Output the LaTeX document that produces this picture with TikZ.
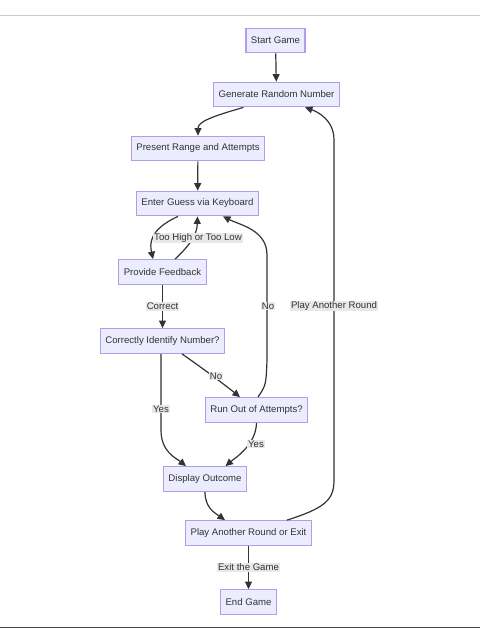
\documentclass[tikz,border=0pt]{standalone}
\usepackage{fontspec}
\setmainfont{Liberation Sans}
\usetikzlibrary{arrows.meta}
\definecolor{nodefill}{HTML}{ECECFF}
\definecolor{nodeborder}{HTML}{B39DEA}
\definecolor{txt}{HTML}{333333}
\definecolor{lblbg}{HTML}{E8E8E8}
\definecolor{topline}{HTML}{CCCCCC}
\definecolor{botline}{HTML}{444444}
\tikzset{
  flowbox/.style={draw=nodeborder, fill=nodefill, line width=1.3pt, text=txt,
    font=\fontsize{9.6}{11}\selectfont, inner xsep=5pt, inner ysep=0pt,
    minimum height=24.5pt},
  conn/.style={draw=txt, line width=1.2pt, -{Triangle[length=7.5pt,width=7pt]}},
  lbl/.style={fill=lblbg, text=txt, font=\fontsize{9.6}{11}\selectfont,
    inner sep=1pt},
}
\begin{document}
\begin{tikzpicture}[x=1pt,y=-1pt]
\useasboundingbox (0,0) rectangle (480,628);
\draw[topline, line width=1.2pt] (0,15.3) -- (480,15.3);
\draw[botline, line width=1.5pt] (0,627.3) -- (480,627.3);

\node[flowbox] (start) at (275.5,40.5) {Start Game};
\node[flowbox] (gen) at (276.5,94.5) {Generate Random Number};
\node[flowbox] (pres) at (198,148.5) {Present Range and Attempts};
\node[flowbox] (enter) at (197.5,203.5) {Enter Guess via Keyboard};
\node[flowbox] (fb) at (162.5,272) {Provide Feedback};
\node[flowbox] (corr) at (162.5,341) {Correctly Identify Number?};
\node[flowbox] (run) at (256.5,410) {Run Out of Attempts?};
\node[flowbox] (disp) at (205,479) {Display Outcome};
\node[flowbox] (play) at (248.5,533) {Play Another Round or Exit};
\node[flowbox] (endg) at (248.5,602) {End Game};

\draw[conn] (start) -- (gen);
\draw[conn] ([xshift=-33pt]gen.south) .. controls (210,117) and (198,122) .. (pres.north);
\draw[conn] (pres) -- (enter);
\draw[conn] ([xshift=-19.5pt]enter.south) .. controls (148,230) and (150,245) .. ([xshift=-9.5pt]fb.north);
\draw[conn] ([xshift=12.5pt]fb.north) .. controls (190,245) and (197,235) .. (enter.south);
\node[lbl] (l1) at (198,238) {Too High or Too Low};
\draw[conn] (fb) -- node[lbl] (l2) {Correct} (corr);
\draw[conn] ([xshift=19.5pt]corr.south) .. controls (205,370) and (225,385) .. ([xshift=-16.5pt]run.north);
\node[lbl] (l3) at (216,376) {No};
\draw[conn] ([xshift=-1.5pt]corr.south) -- (161,430) .. controls (161,452) and (176,458) .. ([xshift=-19pt]disp.north);
\node[lbl] (l4) at (161,409) {Yes};
\draw[conn] ([xshift=1.5pt]run.north) .. controls (266,385) .. (267,360) -- (267,255)
  .. controls (267,230) and (240,225) .. ([xshift=25.5pt]enter.south);
\node[lbl] (l5) at (268,306) {No};
\draw[conn] (run.south) .. controls (256,445) and (235,458) .. ([xshift=20.5pt]disp.north);
\node[lbl] (l6) at (256,444) {Yes};
\draw[conn] (disp.south) .. controls (205,508) and (215,513) .. ([xshift=-23.5pt]play.north);
\draw[conn] ([xshift=38.5pt]play.north) .. controls (325,508) and (334,500) .. (334,480) -- (334,140)
  .. controls (334,120) and (318,112) .. ([xshift=28.5pt]gen.south);
\node[lbl] (l7) at (334,306) {Play Another Round};
\draw[conn] (play) -- node[lbl] (l8) {Exit the Game} (endg);
\end{tikzpicture}
\end{document}
